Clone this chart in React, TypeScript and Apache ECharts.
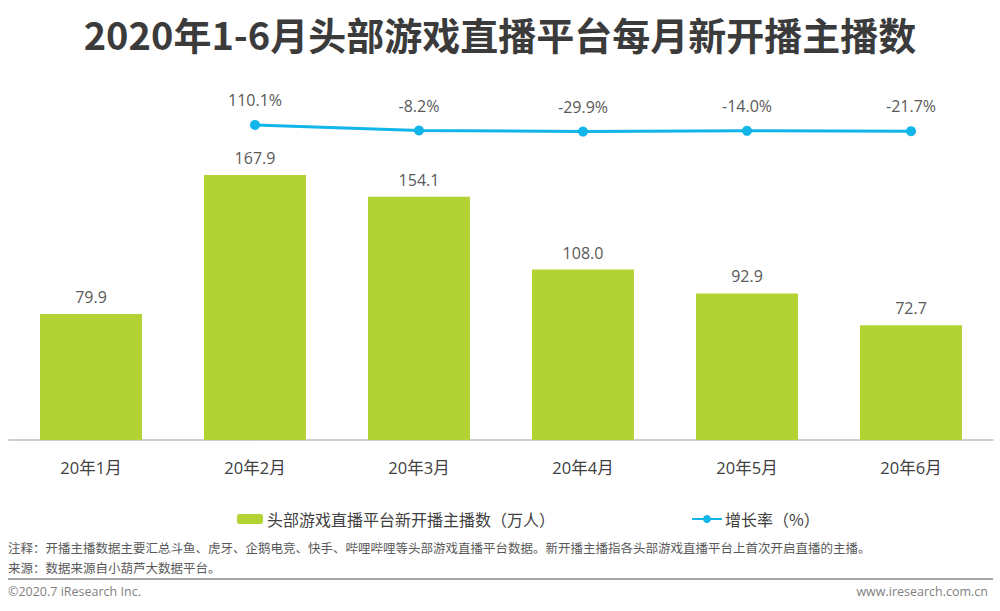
import React, { useEffect, useRef } from "react";
import * as echarts from "echarts";

const months = ["20年1月", "20年2月", "20年3月", "20年4月", "20年5月", "20年6月"];
const newStreamers = [79.9, 167.9, 154.1, 108.0, 92.9, 72.7];
const growthRate = [null, 110.1, -8.2, -29.9, -14.0, -21.7];

const barName = "头部游戏直播平台新开播主播数（万人）";
const lineName = "增长率（%）";
const titleText = "2020年1-6月头部游戏直播平台每月新开播主播数";
const noteText =
  "注释：开播主播数据主要汇总斗鱼、虎牙、企鹅电竞、快手、哔哩哔哩等头部游戏直播平台数据。新开播主播指各头部游戏直播平台上首次开启直播的主播。";
const sourceText = "来源：数据来源自小葫芦大数据平台。";
const copyrightText = "©2020.7 iResearch Inc.";
const siteText = "www.iresearch.com.cn";

const FONT = "'Open Sans', 'Noto Sans CJK SC', sans-serif";
const CJK = "'Noto Sans CJK SC', sans-serif";

export default function App() {
  const ref = useRef<HTMLDivElement>(null);

  useEffect(() => {
    if (!ref.current) return;
    const chart = echarts.init(ref.current, null, { renderer: "svg" });
    chart.setOption({
      animation: false,
      backgroundColor: "#ffffff",
      title: {
        text: titleText,
        left: "center",
        top: 9,
        textStyle: {
          fontSize: 38,
          fontWeight: "bold",
          color: "#3b3b3b",
          fontFamily: CJK,
        },
      },
      legend: [
        {
          data: [barName],
          left: 232,
          top: 506,
          itemWidth: 26,
          itemHeight: 10,
          itemGap: 4,
          textStyle: { fontSize: 16, color: "#404040", fontFamily: CJK, padding: [0, 0, 0, -1] },
        },
        {
          data: [lineName],
          left: 686,
          top: 506,
          itemWidth: 30,
          itemHeight: 10,
          textStyle: { fontSize: 16, color: "#404040", fontFamily: CJK, padding: [0, 0, 0, -2] },
        },
      ],
      grid: { left: 9, right: 7, top: 100, bottom: 171, containLabel: false },
      xAxis: {
        type: "category",
        data: months,
        axisLine: { lineStyle: { color: "#bfbfbf", width: 1.5 } },
        axisTick: { show: false },
        axisLabel: { fontSize: 16.5, color: "#404040", margin: 19, fontFamily: FONT },
      },
      yAxis: [
        { type: "value", min: 0, max: 215.5, show: false, splitLine: { show: false } },
        { type: "value", min: -6556, max: 638, show: false, splitLine: { show: false } },
      ],
      series: [
        {
          name: barName,
          type: "bar",
          data: newStreamers,
          barWidth: 102,
          itemStyle: { color: "#b3d334" },
          label: {
            show: true,
            position: "top",
            distance: 9,
            fontSize: 16,
            color: "#595959",
            fontFamily: FONT,
            formatter: (p: any) => Number(p.value).toFixed(1),
          },
        },
        {
          name: lineName,
          type: "line",
          yAxisIndex: 1,
          data: growthRate,
          symbol: "circle",
          symbolSize: 10,
          lineStyle: { color: "#12b5ea", width: 3 },
          itemStyle: { color: "#12b5ea" },
          label: {
            show: true,
            position: "top",
            distance: 12,
            fontSize: 16,
            color: "#595959",
            fontFamily: FONT,
            formatter: (p: any) => Number(p.value).toFixed(1) + "%",
          },
        },
      ],
      graphic: [
        {
          type: "text",
          left: 8,
          top: 540,
          style: { text: noteText, fontSize: 12.5, lineHeight: 14, fill: "#595959", fontFamily: CJK },
        },
        {
          type: "text",
          left: 8,
          top: 560,
          style: { text: sourceText, fontSize: 12.5, lineHeight: 14, fill: "#595959", fontFamily: CJK },
        },
        {
          type: "line",
          shape: { x1: 8, y1: 579, x2: 993, y2: 579 },
          style: { stroke: "#a6a6a6", lineWidth: 2 },
        },
        {
          type: "text",
          left: 8,
          top: 585,
          style: { text: copyrightText, fontSize: 12.5, fill: "#7f7f7f", fontFamily: FONT },
        },
        {
          type: "text",
          right: 12,
          top: 585,
          style: { text: siteText, fontSize: 12.5, fill: "#7f7f7f", fontFamily: FONT },
        },
      ],
    });
    return () => chart.dispose();
  }, []);

  return (
    <div
      ref={ref}
      style={{ position: "fixed", left: 0, top: 0, width: 1000, height: 611 }}
    />
  );
}
